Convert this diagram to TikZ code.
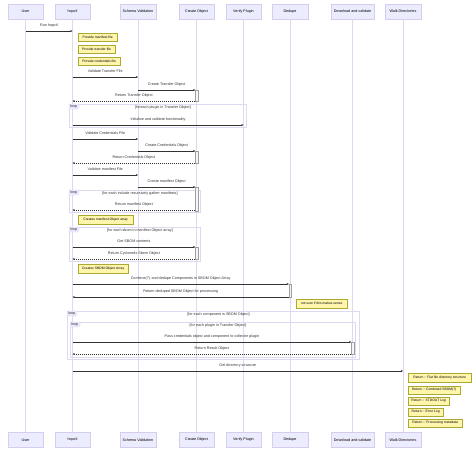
\documentclass[tikz,border=0pt]{standalone}
\usepackage{fontspec}
\setmainfont{Liberation Sans}
\usetikzlibrary{arrows.meta}
\definecolor{actfill}{HTML}{ECECFF}
\definecolor{actline}{RGB}{214,204,240}
\definecolor{lifecol}{RGB}{222,216,240}
\definecolor{notefill}{HTML}{FFF5AD}
\definecolor{noteline}{HTML}{AAAA33}
\definecolor{msgcol}{HTML}{333333}
\tikzset{
 every node/.style={font=\fontsize{3.7}{4.2}\selectfont, inner sep=0pt},
 actor/.style={draw=actline, fill=actfill, line width=0.3pt, minimum height=15pt, text=black},
 lifeline/.style={draw=lifecol, line width=0.5pt},
 note/.style={draw=noteline, fill=notefill, line width=0.3pt, minimum height=8.5pt, anchor=north west, text=black, font=\fontsize{3.35}{4}\selectfont},
 msg/.style={draw=msgcol, line width=0.45pt, -{Stealth[length=2.2pt,width=2pt]}},
 ret/.style={msg, dash pattern=on 1.5pt off 0.5pt},
 msglabel/.style={text=msgcol},
 act/.style={draw=gray!75, fill=gray!8, line width=0.3pt},
 loopbox/.style={draw=lifecol, line width=0.45pt},
 looptag/.style={draw=actline, fill=actfill, line width=0.3pt},
 looplabel/.style={text=msgcol},
}
\newcommand\mymsg[6]{%
 \coordinate (#1s) at (#2,#4);
 \coordinate (#1e) at (#3,#4);
 \draw[#6] (#1s) -- (#1e) node[midway, above=3.8pt, msglabel] (#1l) {#5};
}
\newcommand\myloop[6]{% name, left, top, right, bottom, label
 \coordinate (#1a) at (#2,#3);
 \coordinate (#1b) at (#4,#5);
 \draw[loopbox] (#1a) rectangle (#1b);
 \draw[looptag] (#1a) -- ++(10,0) -- ++(0,3.5) -- ++(-1.5,1.5) -- ++(-8.5,0) -- cycle;
 \node[text=msgcol] (#1t) at ([xshift=4.7pt,yshift=-2.5pt]#1a) {loop};
 \node[looplabel] (#1l) at ({(#2+11+#4)/2},{#3+3.6}) {#6};
}
\begin{document}
\begin{tikzpicture}[x=1pt,y=-1pt]
\fill[white] (0,0) rectangle (474,452);
\useasboundingbox (0,0) rectangle (474,452);

% actors top
\node[actor, minimum width=35pt] (uT) at (25.5,11.5) {User};
\node[actor, minimum width=35pt] (hT) at (72.5,11.5) {hopctl};
\node[actor, minimum width=36pt] (sT) at (138,11.5) {Schema Validation};
\node[actor, minimum width=35pt] (cT) at (196.5,11.5) {Create Object};
\node[actor, minimum width=35pt] (vT) at (243.5,11.5) {Verify Plugin};
\node[actor, minimum width=36pt] (dT) at (290,11.5) {Dedupe};
\node[actor, minimum width=43pt] (lT) at (352.5,11.5) {Download and validate};
\node[actor, minimum width=36pt] (wT) at (403,11.5) {Walk Directories};
% actors bottom
\node[actor, minimum width=35pt] (uB) at (25.5,440) {User};
\node[actor, minimum width=35pt] (hB) at (72.5,440) {hopctl};
\node[actor, minimum width=36pt] (sB) at (138,440) {Schema Validation};
\node[actor, minimum width=35pt] (cB) at (196.5,440) {Create Object};
\node[actor, minimum width=35pt] (vB) at (243.5,440) {Verify Plugin};
\node[actor, minimum width=36pt] (dB) at (290,440) {Dedupe};
\node[actor, minimum width=43pt] (lB) at (352.5,440) {Download and validate};
\node[actor, minimum width=36pt] (wB) at (403,440) {Walk Directories};
% lifelines
\foreach \a in {u,h,s,c,v,d,l,w} {
  \draw[lifeline] (\a T.south) -- (\a B.north);
}

% loops (behind messages)
\myloop{lpA}{69}{104}{246}{127}{[foreach plugin in Transfer Object]}
\myloop{lpB}{69}{190}{200}{212}{[for each include recursively gather manifests]}
\myloop{lpC}{69}{227}{200}{261}{[for each sbom in manifest Object array]}
\myloop{lpD}{67}{311}{359}{359}{[for each component in SBOM Object]}
\myloop{lpE}{70}{322}{355}{357}{[for each plugin in Transfer Object]}

% activation bars
\draw[act] (195.3,90) rectangle (197.7,101.5);
\draw[act] (195.3,151) rectangle (197.7,163.5);
\draw[act] (195.3,187) rectangle (197.7,211);
\draw[act] (195.3,247) rectangle (197.7,259.5);
\draw[act] (288.8,284) rectangle (291.2,297.5);
\draw[act] (351.3,342) rectangle (353.7,354.5);

% messages
\mymsg{m1}{25.5}{72.5}{31}{Run hopctl}{msg}
\node[note, minimum width=39pt] (n1) at (78,33) {Provide manifest file};
\node[note, minimum width=37pt] (n2) at (78,45) {Provide transfer file};
\node[note, minimum width=42pt] (n3) at (78,57) {Provide credentials file};
\mymsg{m2}{72.5}{138}{77}{Validate Transfer File}{msg}
\mymsg{m3}{138}{195.3}{90}{Create Transfer Object}{msg}
\mymsg{m4}{195.3}{72.5}{101}{Return Transfer Object}{ret}
\mymsg{m5}{72.5}{243.5}{125}{Initialize and validate functionality}{msg}
\mymsg{m6}{72.5}{138}{139}{Validate Credentials File}{msg}
\mymsg{m7}{138}{195.3}{151}{Create Credentials Object}{msg}
\mymsg{m8}{195.3}{72.5}{163}{Return Credentials Object}{ret}
\mymsg{m9}{72.5}{138}{175}{Validate manifest File}{msg}
\mymsg{m10}{138}{195.3}{187}{Create manifest Object}{msg}
\mymsg{m11}{195.3}{72.5}{210}{Return manifest Object}{ret}
\node[note, minimum width=55pt] (n4) at (78,215) {Creates manifest Object array};
\mymsg{m12}{72.5}{195.3}{247}{Get SBOM contents}{msg}
\mymsg{m13}{195.3}{72.5}{259}{Return Cyclonedx Sbom Object}{ret}
\node[note, minimum width=50pt] (n5) at (78,264) {Creates SBOM Object Array};
\mymsg{m14}{72.5}{288.8}{284}{Combine(?) and dedupe Components in SBOM Object Array}{msg}
\mymsg{m15}{288.8}{72.5}{297}{Return deduped SBOM Object for processing}{ret}
\node[note, minimum width=51pt, minimum height=9pt] (n6) at (296,299) {not sure if this makes sense};
\mymsg{m16}{72.5}{351.3}{342}{Pass credentials object and component to collector plugin}{msg}
\mymsg{m17}{351.3}{72.5}{354}{Return Result Object}{ret}
\mymsg{m18}{72.5}{403}{371}{Get directory structure}{msg}

% right notes
\node[note, minimum width=63pt, minimum height=9pt] (r1) at (408,373) {Return :: Flat file directory structure};
\node[note, minimum width=52pt] (r2) at (408,385.5) {Return :: Combined SBOM(?)};
\node[note, minimum width=41pt] (r3) at (408,396.5) {Return :: STDOUT Log};
\node[note, minimum width=35pt] (r4) at (408,407.5) {Return :: Error Log};
\node[note, minimum width=54pt] (r5) at (408,418.5) {Return :: Processing metadata};
\end{tikzpicture}
\end{document}
